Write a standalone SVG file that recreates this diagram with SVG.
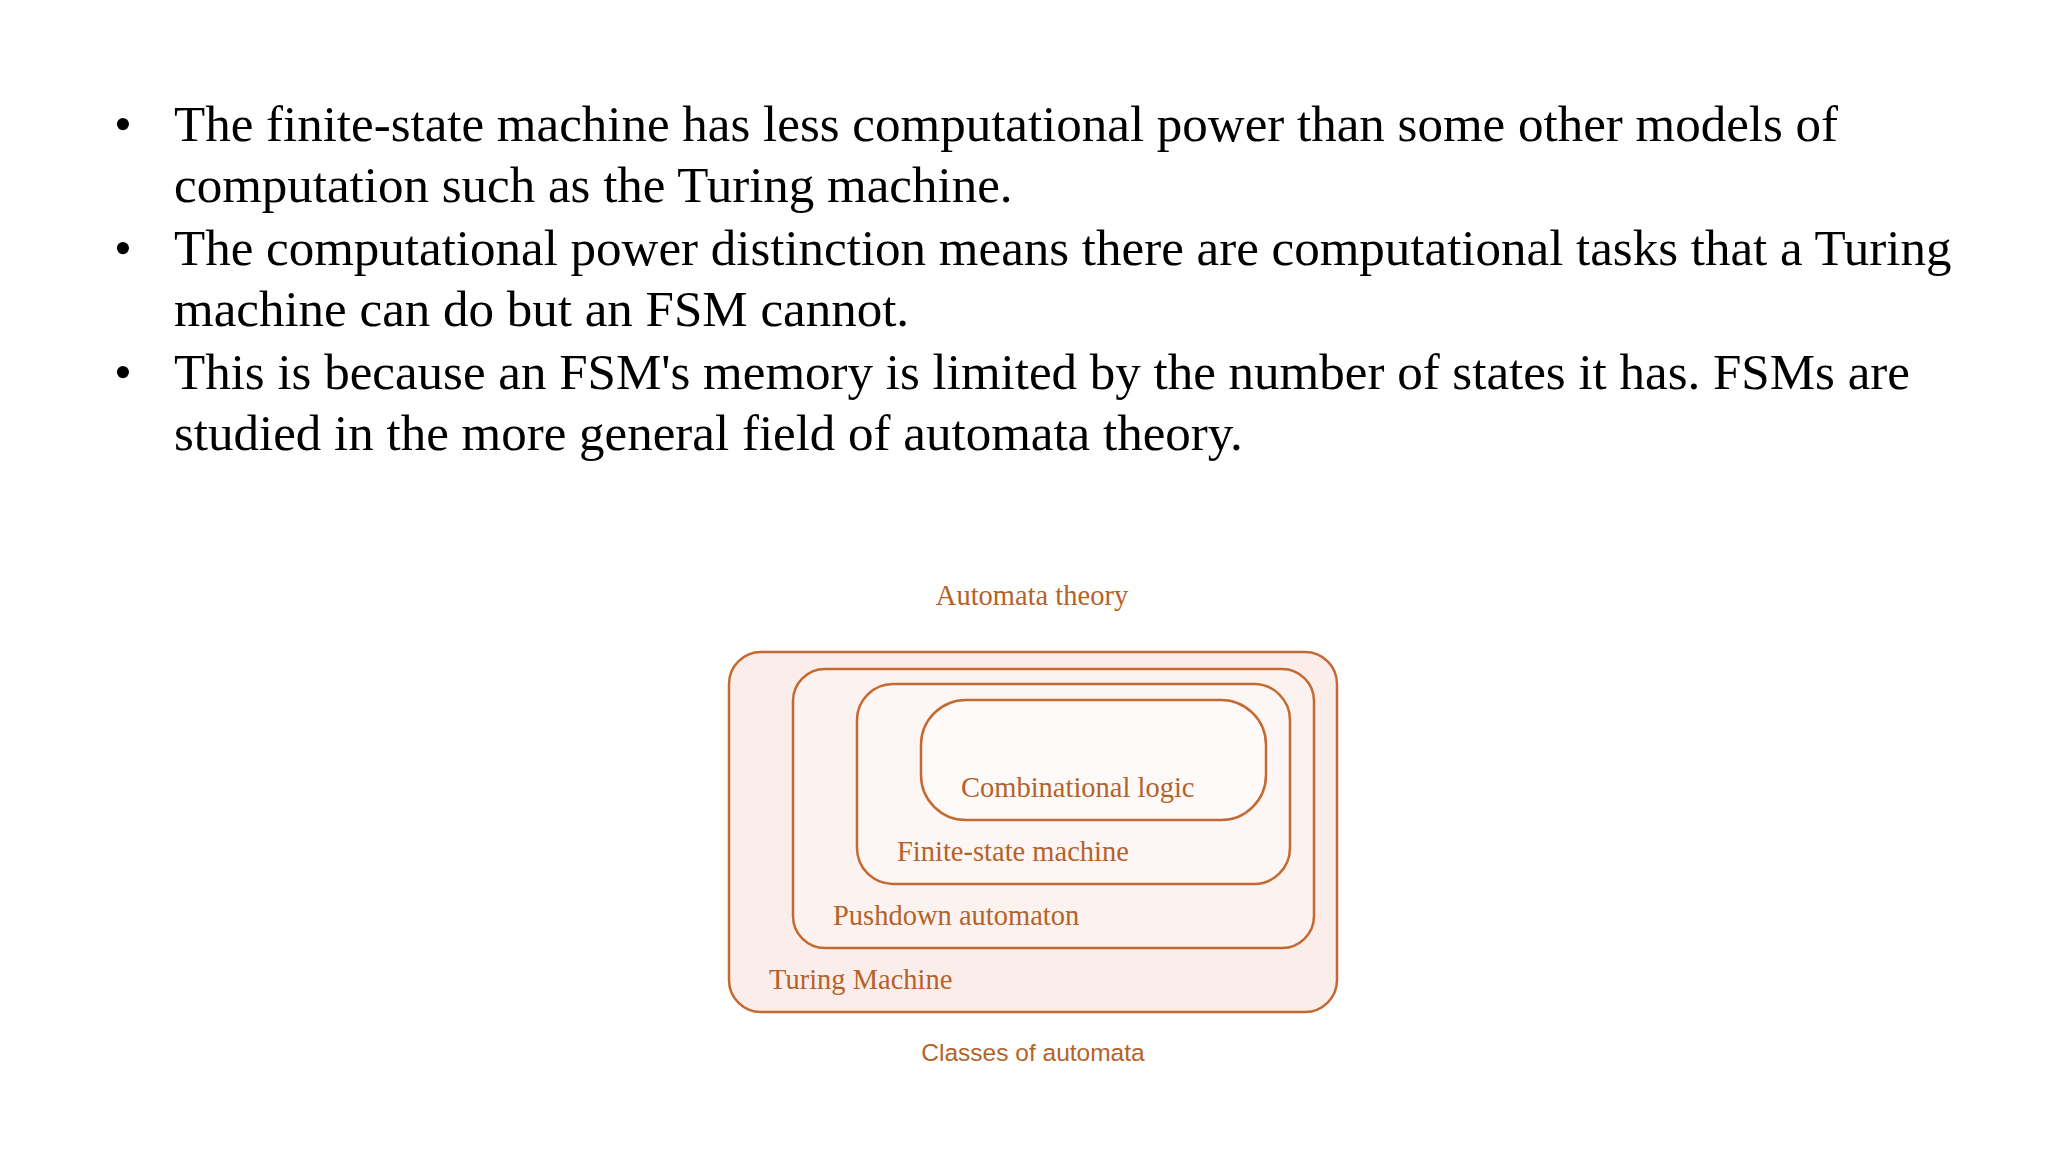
<svg xmlns="http://www.w3.org/2000/svg" width="2048" height="1152" viewBox="0 0 2048 1152">
<style>
.b{font-family:"Liberation Serif",serif;font-size:51px;fill:#000}
.l{font-family:"Liberation Serif",serif;font-size:28.5px;fill:#b5622a}
.box{stroke:#c46a30;stroke-width:2.5}
</style>
<rect width="2048" height="1152" fill="#fff"/>
<g id="bullets">
<text class="b" x="114" y="141">•</text>
<text class="b" x="174" y="141">The finite-state machine has less computational power than some other models of</text>
<text class="b" x="174" y="202">computation such as the Turing machine.</text>
<text class="b" x="114" y="265">•</text>
<text class="b" x="174" y="265">The computational power distinction means there are computational tasks that a Turing</text>
<text class="b" x="174" y="326">machine can do but an FSM cannot.</text>
<text class="b" x="114" y="389">•</text>
<text class="b" x="174" y="389">This is because an FSM's memory is limited by the number of states it has. FSMs are</text>
<text class="b" x="174" y="450">studied in the more general field of automata theory.</text>
</g>
<text class="l" x="1032" y="605" text-anchor="middle">Automata theory</text>
<g id="turing"><rect class="box" x="729" y="652" width="608" height="360" rx="32" fill="#fbeeea"/><text class="l" x="769" y="989">Turing Machine</text></g>
<g id="pushdown"><rect class="box" x="793" y="669" width="521" height="279" rx="32" fill="#fcf3f0"/><text class="l" x="833" y="925">Pushdown automaton</text></g>
<g id="fsm"><rect class="box" x="857" y="684" width="433" height="200" rx="36" fill="#fdf6f4"/><text class="l" x="897" y="861">Finite-state machine</text></g>
<g id="comb"><rect class="box" x="921" y="700" width="345" height="120" rx="45" fill="#fefaf9"/><text class="l" x="961" y="797">Combinational logic</text></g>
<text x="1033" y="1061" text-anchor="middle" font-family="'Liberation Sans',sans-serif" font-size="24.5" fill="#b5622a">Classes of automata</text>
<g id="connectors"/>
</svg>
